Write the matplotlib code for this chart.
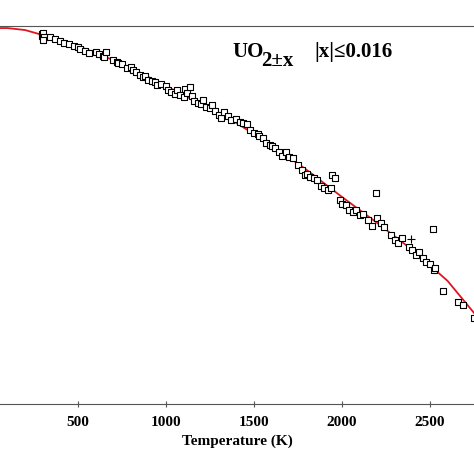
import matplotlib
matplotlib.use("Agg")
import matplotlib.pyplot as plt

# fitted curve (temperature K, relative value)
curve_T = [0, 100, 200, 300, 400, 500, 600, 700, 800, 900, 1000, 1200, 1400, 1600,
           1800, 2000, 2200, 2400, 2600, 2750]
curve_y = [376, 376, 374, 369, 364, 358, 351, 344, 336, 327, 318, 300, 281, 259,
           234, 207, 181, 154, 123, 91]

# measured points
pts_T = [295, 298, 300, 302, 305, 300, 340, 370, 400, 420, 450, 480, 500, 510, 540, 560,
         600, 620, 640, 650, 660, 700, 720, 730, 750, 780, 800, 810, 830, 850, 870, 880,
         900, 920, 940, 950, 970, 1000, 1010, 1030, 1050, 1060, 1080, 1100, 1110, 1120,
         1136, 1150, 1160, 1180, 1200, 1210, 1230, 1250, 1260, 1280, 1300, 1310, 1330,
         1350, 1370, 1400, 1420, 1440, 1460, 1480, 1500, 1520, 1530, 1550, 1570, 1590,
         1600, 1620, 1640, 1660, 1680, 1700, 1720, 1750, 1770, 1790, 1800, 1820, 1840,
         1860, 1880, 1900, 1920, 1940, 1943, 1960, 1990, 2000, 2020, 2040, 2060, 2080,
         2100, 2120, 2150, 2170, 2193, 2200, 2220, 2240, 2280, 2300, 2320, 2340, 2380,
         2400, 2420, 2440, 2460, 2480, 2500, 2517, 2520, 2530, 2574, 2659, 2688, 2750]
pts_y = [370, 368, 366, 371, 367, 364, 367, 365, 363, 361, 360, 358, 357, 355, 353, 351,
         352, 350, 348, 347, 352, 344, 342, 341, 340, 336, 337, 334, 332, 329, 327, 328,
         324, 323, 322, 319, 320, 318, 314, 312, 310, 314, 309, 307, 315, 311,
         317, 308, 303, 301, 300, 304, 297, 296, 299, 293, 289, 286, 292,
         288, 284, 285, 282, 281, 280, 274, 271, 270, 268, 266, 261, 259,
         258, 256, 252, 248, 252, 247, 246, 239, 234, 229, 230, 227, 226,
         224, 218, 216, 214, 216, 229, 226, 204, 200, 199, 194, 192, 194,
         189, 190, 184, 178, 211, 186, 181, 177, 169, 164, 161, 166, 157,
         154, 149, 152, 146, 142, 140, 175, 134, 136, 113, 102, 99, 86]
plus_T = [2392]
plus_y = [165]

fig = plt.figure(figsize=(4.74, 4.74), dpi=100)
ax = fig.add_axes([0.0, 0.148, 1.0, 0.797])
ax.plot(curve_T, curve_y, color="#e0141e", lw=1.3, zorder=1)
ax.scatter(pts_T, pts_y, marker="s", s=16, facecolors="white", edgecolors="black",
           linewidths=0.8, zorder=2)
ax.scatter(plus_T, plus_y, marker="+", s=30, color="black", linewidths=0.8, zorder=3)
ax.set_xlim(57, 2750)
ax.set_ylim(0, 378)
ax.spines["left"].set_visible(False)
ax.spines["right"].set_visible(False)
for s in ("top", "bottom"):
    ax.spines[s].set_color("#555555")
ax.set_yticks([])
ax.set_xticks([500, 1000, 1500, 2000, 2500])
ax.tick_params(axis="x", direction="inout", length=5, color="#555555", pad=6)
for lab in ax.get_xticklabels():
    lab.set_fontfamily("Liberation Serif")
    lab.set_fontweight("bold")
    lab.set_fontsize(11)
ax.set_xlabel("Temperature (K)", fontfamily="Liberation Serif", fontweight="bold",
              fontsize=11, labelpad=4)
ax.text(0.49, 0.89, r"UO", transform=fig.transFigure, fontfamily="Liberation Serif",
        fontweight="bold", fontsize=15, va="center")
ax.text(0.55, 0.872, "2\u00b1x", transform=fig.transFigure, fontfamily="Liberation Serif",
        fontweight="bold", fontsize=15, va="center")
ax.text(0.663, 0.89, "|x|\u22640.016", transform=fig.transFigure,
        fontfamily=["Liberation Serif", "DejaVu Serif"], fontweight="bold", fontsize=15,
        va="center")
fig.savefig("out.png", dpi=100)
